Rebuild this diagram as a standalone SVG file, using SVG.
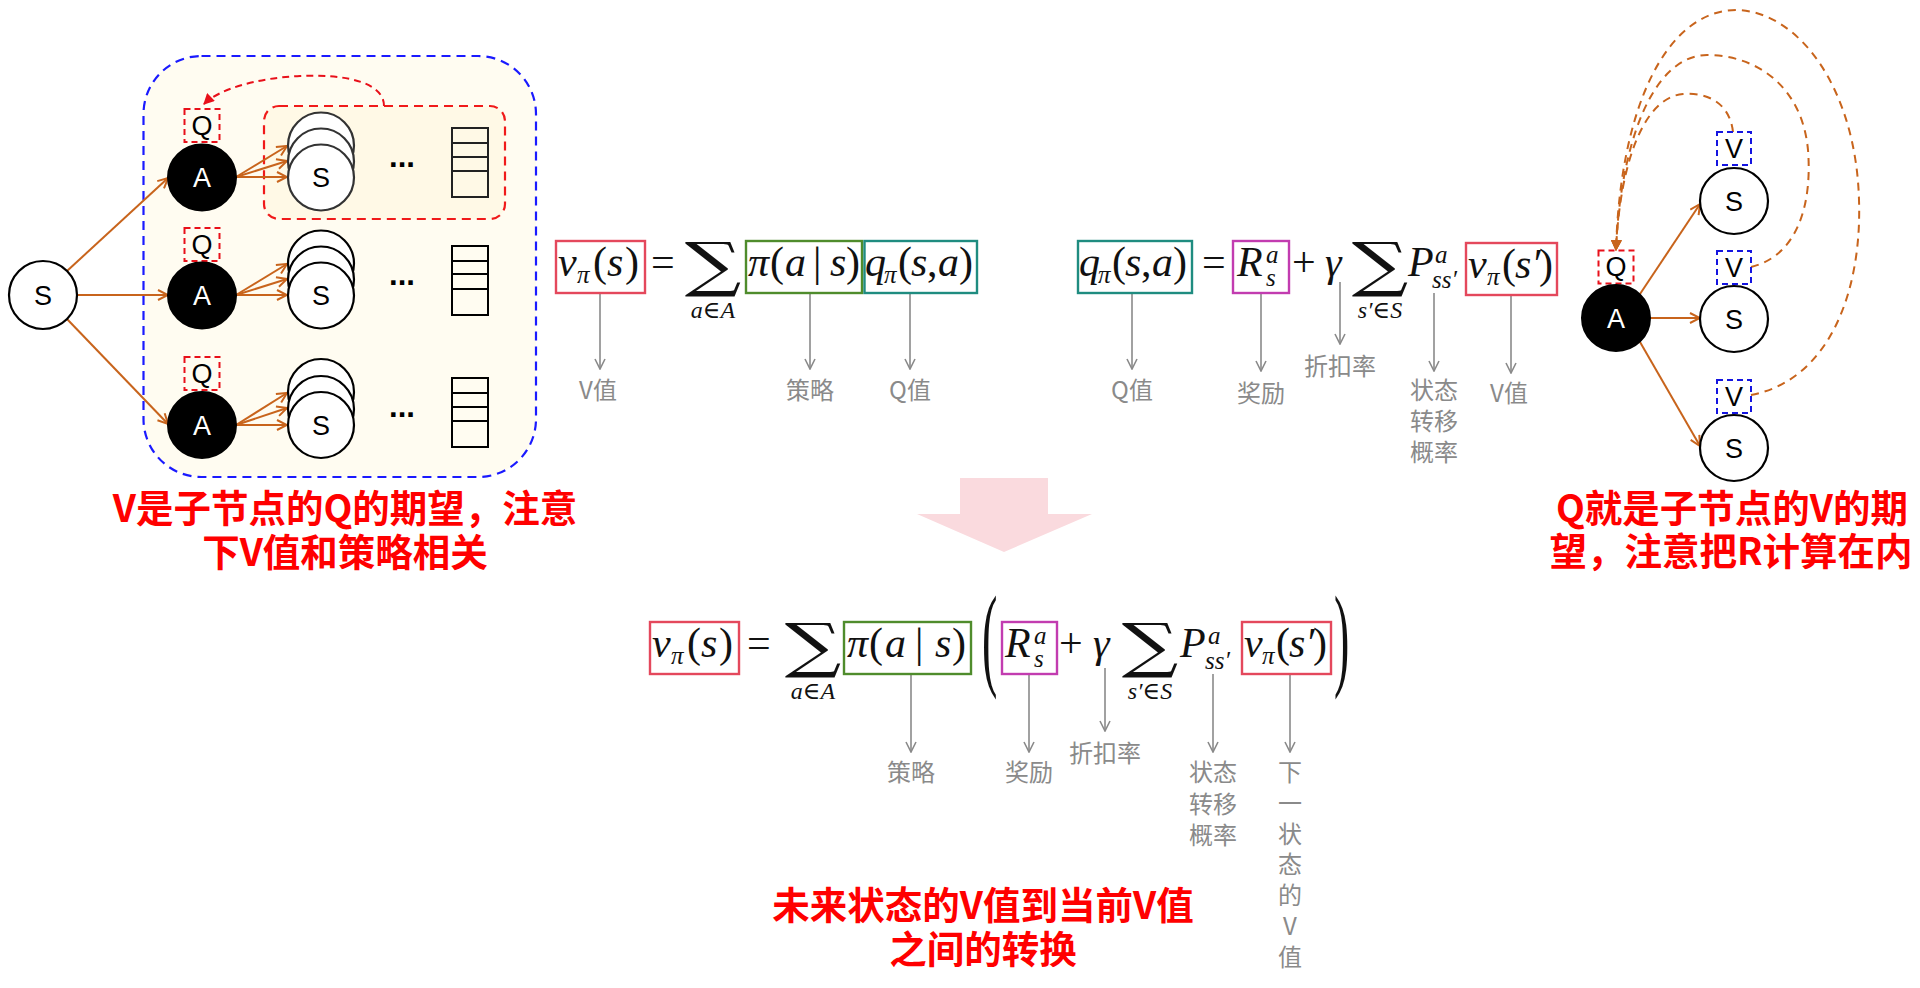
<svg xmlns="http://www.w3.org/2000/svg" width="1920" height="988" viewBox="0 0 1920 988">
<defs>
<style>
.lbl{font-family:"Liberation Sans","Noto Sans",Arial,sans-serif;font-size:27px;text-anchor:middle}
.node{fill:#fff;stroke:#000;stroke-width:2.2}
.anode{fill:#000;stroke:#000;stroke-width:2}
.qbox{fill:none;stroke:#e8101a;stroke-width:2;stroke-dasharray:6,4}
.vbox{fill:none;stroke:#1515e0;stroke-width:2;stroke-dasharray:6,4}
.oar{fill:none;stroke:#c8641c;stroke-width:2}
.odash{fill:none;stroke:#c8641c;stroke-width:2;stroke-dasharray:8,6}
.gar{fill:none;stroke:#8a8a8a;stroke-width:1.6}
.m{font-family:"Liberation Serif","DejaVu Serif",serif;font-style:italic;font-size:42px;fill:#111}
.u{font-style:normal}
.ms{font-size:25px}
.sig{font-family:"DejaVu Serif","Liberation Serif",serif;font-style:normal;font-size:60px;fill:#111;text-anchor:middle}
.sub{font-family:"Liberation Serif","DejaVu Serif",serif;font-style:italic;font-size:24px;fill:#111;text-anchor:middle}
.gl{font-family:"Noto Sans CJK SC","Liberation Sans",sans-serif;font-size:24px;fill:#8a8a8a;text-anchor:middle}
.red{font-family:"Noto Sans CJK SC","Liberation Sans",sans-serif;font-size:37.5px;font-weight:bold;fill:#ff0000;text-anchor:middle}
.bR{fill:none;stroke:#e4485c;stroke-width:2.4}
.bG{fill:none;stroke:#4f8c2c;stroke-width:2.4}
.bT{fill:none;stroke:#1f8c80;stroke-width:2.4}
.bM{fill:none;stroke:#c23cb0;stroke-width:2.4}
.dots{font-family:"Liberation Sans",Arial,sans-serif;font-size:31px;font-weight:bold;text-anchor:middle}
</style>
<marker id="ao" viewBox="0 0 12 12" refX="11" refY="6" markerWidth="12" markerHeight="12" markerUnits="userSpaceOnUse" orient="auto">
<path d="M1,1 L11,6 L1,11" fill="none" stroke="#c8641c" stroke-width="2"/>
</marker>
<marker id="ag" viewBox="0 0 12 12" refX="11" refY="6" markerWidth="12" markerHeight="12" markerUnits="userSpaceOnUse" orient="auto">
<path d="M1,1 L11,6 L1,11" fill="none" stroke="#8a8a8a" stroke-width="1.6"/>
</marker>
<marker id="ar" viewBox="0 0 10 10" refX="9" refY="5" markerWidth="11" markerHeight="11" markerUnits="userSpaceOnUse" orient="auto">
<path d="M0,0 L10,5 L0,10 z" fill="#e8101a"/>
</marker>
<marker id="aof" viewBox="0 0 10 10" refX="9" refY="5" markerWidth="11" markerHeight="11" markerUnits="userSpaceOnUse" orient="auto">
<path d="M0,0 L10,5 L0,10 z" fill="#c8641c"/>
</marker>
</defs>
<rect width="1920" height="988" fill="#fff"/>

<g id="group-blue">
<rect x="143.5" y="56" width="392.5" height="421" rx="58" fill="#fffcf1" stroke="#1a1aff" stroke-width="2.2" stroke-dasharray="9,6"/>
</g>
<g id="group-red">
<rect x="264" y="106" width="241" height="113" rx="15" fill="#fff9e6" stroke="#f01a1a" stroke-width="2.2" stroke-dasharray="9,6"/>
</g>

<g id="connectors">
<line class="oar" x1="67" y1="271" x2="168" y2="178" marker-end="url(#ao)"/>
<line class="oar" x1="77" y1="295" x2="168" y2="295" marker-end="url(#ao)"/>
<line class="oar" x1="67" y1="319" x2="168" y2="424" marker-end="url(#ao)"/>
<line class="oar" x1="236" y1="177" x2="287" y2="146" marker-end="url(#ao)"/>
<line class="oar" x1="236" y1="177" x2="287" y2="161" marker-end="url(#ao)"/>
<line class="oar" x1="236" y1="177" x2="287" y2="177" marker-end="url(#ao)"/>
<line class="oar" x1="236" y1="295" x2="287" y2="264" marker-end="url(#ao)"/>
<line class="oar" x1="236" y1="295" x2="287" y2="279" marker-end="url(#ao)"/>
<line class="oar" x1="236" y1="295" x2="287" y2="295" marker-end="url(#ao)"/>
<line class="oar" x1="236" y1="425" x2="287" y2="393" marker-end="url(#ao)"/>
<line class="oar" x1="236" y1="425" x2="287" y2="408" marker-end="url(#ao)"/>
<line class="oar" x1="236" y1="425" x2="287" y2="425" marker-end="url(#ao)"/>
<path d="M384,106 C384,82 345,74 300,76 C255,78 218,90 204,104" fill="none" stroke="#e8101a" stroke-width="2" stroke-dasharray="7,5" marker-end="url(#ar)"/>
<line class="oar" x1="1640" y1="294" x2="1700" y2="204" marker-end="url(#ao)"/>
<line class="oar" x1="1650" y1="318" x2="1700" y2="318" marker-end="url(#ao)"/>
<line class="oar" x1="1640" y1="342" x2="1700" y2="446" marker-end="url(#ao)"/>
<path class="odash" d="M1733,132 C1730,105 1710,92 1683,94 C1645,97 1620,160 1616,250" marker-end="url(#aof)"/>
<path class="odash" d="M1751,267 C1800,255 1812,200 1808,150 C1802,85 1755,55 1707,55 C1650,56 1620,150 1616,250" marker-end="url(#aof)"/>
<path class="odash" d="M1751,395 C1830,380 1862,290 1859,200 C1856,90 1800,12 1737,10 C1665,10 1620,110 1616,250" marker-end="url(#aof)"/>
<line class="gar" x1="600" y1="293" x2="600" y2="369" marker-end="url(#ag)"/>
<line class="gar" x1="810" y1="293" x2="810" y2="369" marker-end="url(#ag)"/>
<line class="gar" x1="910" y1="293" x2="910" y2="369" marker-end="url(#ag)"/>
<line class="gar" x1="1132" y1="293" x2="1132" y2="369" marker-end="url(#ag)"/>
<line class="gar" x1="1261" y1="293" x2="1261" y2="371" marker-end="url(#ag)"/>
<line class="gar" x1="1340" y1="282" x2="1340" y2="344" marker-end="url(#ag)"/>
<line class="gar" x1="1434" y1="293" x2="1434" y2="371" marker-end="url(#ag)"/>
<line class="gar" x1="1511" y1="295" x2="1511" y2="373" marker-end="url(#ag)"/>
<line class="gar" x1="911" y1="674" x2="911" y2="752" marker-end="url(#ag)"/>
<line class="gar" x1="1029" y1="674" x2="1029" y2="752" marker-end="url(#ag)"/>
<line class="gar" x1="1105" y1="668" x2="1105" y2="731" marker-end="url(#ag)"/>
<line class="gar" x1="1213" y1="674" x2="1213" y2="752" marker-end="url(#ag)"/>
<line class="gar" x1="1290" y1="674" x2="1290" y2="752" marker-end="url(#ag)"/>
</g>

<g id="s-root"><circle class="node" cx="43" cy="295" r="34"/><text class="lbl" x="43" y="305">S</text></g>
<g id="q1"><rect class="qbox" x="184.5" y="109" width="35" height="33"/><text class="lbl" x="202" y="135">Q</text></g>
<g id="a1"><ellipse class="anode" cx="202" cy="177.5" rx="34" ry="33"/><text class="lbl" x="202" y="187" fill="#fff">A</text></g>
<g id="q2"><rect class="qbox" x="184.5" y="228" width="35" height="33"/><text class="lbl" x="202" y="254">Q</text></g>
<g id="a2"><ellipse class="anode" cx="202" cy="295.5" rx="34" ry="33"/><text class="lbl" x="202" y="305" fill="#fff">A</text></g>
<g id="q3"><rect class="qbox" x="184.5" y="357" width="35" height="33"/><text class="lbl" x="202" y="383">Q</text></g>
<g id="a3"><ellipse class="anode" cx="202" cy="425" rx="34" ry="33"/><text class="lbl" x="202" y="435" fill="#fff">A</text></g>

<g id="stack1">
<ellipse cx="321" cy="145.5" rx="33" ry="33" fill="#fff" stroke="#333" stroke-width="2.2"/>
<ellipse cx="321" cy="161.5" rx="33" ry="33" fill="#fff" stroke="#333" stroke-width="2.2"/>
<ellipse cx="321" cy="177.5" rx="33" ry="33" fill="#fff" stroke="#333" stroke-width="2.2"/>
<text class="lbl" x="321" y="187">S</text>
</g>
<g id="stack2">
<ellipse class="node" cx="321" cy="263.5" rx="33" ry="33"/>
<ellipse class="node" cx="321" cy="279.5" rx="33" ry="33"/>
<ellipse class="node" cx="321" cy="295.5" rx="33" ry="33"/>
<text class="lbl" x="321" y="305">S</text>
</g>
<g id="stack3">
<ellipse class="node" cx="321" cy="392" rx="33" ry="33"/>
<ellipse class="node" cx="321" cy="409" rx="33" ry="33"/>
<ellipse class="node" cx="321" cy="425" rx="33" ry="33"/>
<text class="lbl" x="321" y="435">S</text>
</g>

<g id="dots">
<text class="dots" x="402" y="167">...</text>
<text class="dots" x="402" y="285">...</text>
<text class="dots" x="402" y="417">...</text>
</g>

<g id="table1" fill="none" stroke="#222" stroke-width="2">
<rect x="452" y="128" width="36" height="69"/>
<line x1="452" y1="143" x2="488" y2="143"/><line x1="452" y1="157" x2="488" y2="157"/><line x1="452" y1="171" x2="488" y2="171"/>
</g>
<g id="table2" fill="none" stroke="#000" stroke-width="2">
<rect x="452" y="246" width="36" height="69"/>
<line x1="452" y1="261" x2="488" y2="261"/><line x1="452" y1="274" x2="488" y2="274"/><line x1="452" y1="289" x2="488" y2="289"/>
</g>
<g id="table3" fill="none" stroke="#000" stroke-width="2">
<rect x="452" y="378" width="36" height="69"/>
<line x1="452" y1="393" x2="488" y2="393"/><line x1="452" y1="407" x2="488" y2="407"/><line x1="452" y1="421" x2="488" y2="421"/>
</g>

<g id="left-caption">
<text class="red" x="345" y="522">V是子节点的Q的期望，注意</text>
<text class="red" x="345" y="566">下V值和策略相关</text>
</g>

<g id="formula1">
<rect class="bR" x="556" y="241" width="89" height="52"/>
<rect class="bG" x="746" y="241" width="116" height="52"/>
<rect class="bT" x="864.5" y="241" width="112.5" height="52"/>
<text class="m"><tspan x="558" y="276">v</tspan><tspan class="ms" x="577" y="283">π</tspan><tspan class="u" x="593" y="276">(</tspan><tspan x="607" y="276">s</tspan><tspan class="u" x="625" y="276">)</tspan></text>
<text class="m"><tspan class="u" x="651" y="276">=</tspan></text>
<text class="sig" transform="translate(713,285) scale(1.32,1)">∑</text>
<text class="sub" x="713" y="318">a<tspan font-style="normal">∈</tspan>A</text>
<text class="m"><tspan x="748" y="276">π</tspan><tspan class="u" x="770" y="276">(</tspan><tspan x="785" y="276">a</tspan><tspan class="u" x="813" y="276">|</tspan><tspan x="830" y="276">s</tspan><tspan class="u" x="846" y="276">)</tspan></text>
<text class="m"><tspan x="865" y="276">q</tspan><tspan class="ms" x="884" y="283">π</tspan><tspan class="u" x="898" y="276">(</tspan><tspan x="911" y="276">s</tspan><tspan class="u" x="927" y="276">,</tspan><tspan x="938" y="276">a</tspan><tspan class="u" x="959" y="276">)</tspan></text>
<text class="gl" x="598" y="399">V值</text>
<text class="gl" x="810" y="399">策略</text>
<text class="gl" x="910" y="399">Q值</text>
</g>

<g id="formula2">
<rect class="bT" x="1078" y="241" width="114" height="52"/>
<rect class="bM" x="1233" y="241" width="56" height="52"/>
<rect class="bR" x="1466" y="243" width="91" height="52"/>
<text class="m"><tspan x="1079" y="276">q</tspan><tspan class="ms" x="1098" y="283">π</tspan><tspan class="u" x="1112" y="276">(</tspan><tspan x="1125" y="276">s</tspan><tspan class="u" x="1141" y="276">,</tspan><tspan x="1152" y="276">a</tspan><tspan class="u" x="1173" y="276">)</tspan></text>
<text class="m"><tspan class="u" x="1202" y="276">=</tspan></text>
<text class="m"><tspan x="1237" y="276">R</tspan><tspan class="ms" x="1266" y="263">a</tspan><tspan class="ms" x="1266" y="286">s</tspan></text>
<text class="m"><tspan class="u" x="1292" y="276">+</tspan><tspan x="1325" y="276">γ</tspan></text>
<text class="sig" transform="translate(1380,285) scale(1.32,1)">∑</text>
<text class="sub" x="1380" y="318">s′<tspan font-style="normal">∈</tspan>S</text>
<text class="m"><tspan x="1408" y="276">P</tspan><tspan class="ms" x="1435" y="263">a</tspan><tspan class="ms" x="1432" y="288">ss′</tspan></text>
<text class="m"><tspan x="1468" y="278">v</tspan><tspan class="ms" x="1487" y="285">π</tspan><tspan class="u" x="1502" y="278">(</tspan><tspan x="1515" y="278">s′</tspan><tspan class="u" x="1539" y="278">)</tspan></text>
<text class="gl" x="1132" y="399">Q值</text>
<text class="gl" x="1261" y="402">奖励</text>
<text class="gl" x="1340" y="375">折扣率</text>
<text class="gl" x="1434" y="399">状态</text>
<text class="gl" x="1434" y="430">转移</text>
<text class="gl" x="1434" y="461">概率</text>
<text class="gl" x="1509" y="402">V值</text>
</g>

<g id="q-right"><rect class="qbox" x="1598.5" y="250.5" width="35" height="33"/><text class="lbl" x="1616" y="276">Q</text></g>
<g id="a-right"><ellipse class="anode" cx="1616" cy="318" rx="34" ry="33"/><text class="lbl" x="1616" y="328" fill="#fff">A</text></g>
<g id="v1"><rect class="vbox" x="1717" y="132" width="34" height="33"/><text class="lbl" x="1734" y="158">V</text></g>
<g id="s1"><ellipse class="node" cx="1734" cy="201" rx="34" ry="33"/><text class="lbl" x="1734" y="211">S</text></g>
<g id="v2"><rect class="vbox" x="1717" y="251" width="34" height="33"/><text class="lbl" x="1734" y="277">V</text></g>
<g id="s2"><ellipse class="node" cx="1734" cy="319" rx="34" ry="33"/><text class="lbl" x="1734" y="329">S</text></g>
<g id="v3"><rect class="vbox" x="1717" y="380" width="34" height="33"/><text class="lbl" x="1734" y="406">V</text></g>
<g id="s3"><ellipse class="node" cx="1734" cy="448" rx="34" ry="33"/><text class="lbl" x="1734" y="458">S</text></g>
<g id="right-caption">
<text class="red" x="1732" y="522">Q就是子节点的V的期</text>
<text class="red" x="1731" y="565">望，注意把R计算在内</text>
</g>

<g id="down-arrow">
<polygon points="960,478 1048,478 1048,514 1092,514 1004,552 917,514 960,514" fill="#fadade"/>
</g>

<g id="formula3">
<rect class="bR" x="650" y="622" width="89" height="52"/>
<rect class="bG" x="844" y="622" width="127" height="52"/>
<rect class="bM" x="1002" y="622" width="55" height="52"/>
<rect class="bR" x="1242" y="622" width="89" height="52"/>
<text class="m"><tspan x="652" y="657">v</tspan><tspan class="ms" x="671" y="664">π</tspan><tspan class="u" x="687" y="657">(</tspan><tspan x="701" y="657">s</tspan><tspan class="u" x="719" y="657">)</tspan></text>
<text class="m"><tspan class="u" x="747" y="657">=</tspan></text>
<text class="sig" transform="translate(813,666) scale(1.32,1)">∑</text>
<text class="sub" x="813" y="699">a<tspan font-style="normal">∈</tspan>A</text>
<text class="m"><tspan x="847" y="657">π</tspan><tspan class="u" x="869" y="657">(</tspan><tspan x="885" y="657">a</tspan><tspan class="u" x="915" y="657">|</tspan><tspan x="935" y="657">s</tspan><tspan class="u" x="952" y="657">)</tspan></text>
<text class="m" transform="translate(982,675) scale(1,2.5)" style="font-size:46px;font-style:normal">(</text>
<text class="m"><tspan x="1005" y="657">R</tspan><tspan class="ms" x="1034" y="644">a</tspan><tspan class="ms" x="1034" y="667">s</tspan></text>
<text class="m"><tspan class="u" x="1059" y="657">+</tspan><tspan x="1093" y="657">γ</tspan></text>
<text class="sig" transform="translate(1150,666) scale(1.32,1)">∑</text>
<text class="sub" x="1150" y="699">s′<tspan font-style="normal">∈</tspan>S</text>
<text class="m"><tspan x="1180" y="657">P</tspan><tspan class="ms" x="1208" y="644">a</tspan><tspan class="ms" x="1205" y="669">ss′</tspan></text>
<text class="m"><tspan x="1244" y="657">v</tspan><tspan class="ms" x="1262" y="664">π</tspan><tspan class="u" x="1276" y="657">(</tspan><tspan x="1289" y="657">s′</tspan><tspan class="u" x="1313" y="657">)</tspan></text>
<text class="m" transform="translate(1334,675) scale(1,2.5)" style="font-size:46px;font-style:normal">)</text>
<text class="gl" x="911" y="781">策略</text>
<text class="gl" x="1029" y="781">奖励</text>
<text class="gl" x="1105" y="762">折扣率</text>
<text class="gl" x="1213" y="781">状态</text>
<text class="gl" x="1213" y="813">转移</text>
<text class="gl" x="1213" y="844">概率</text>
<text class="gl" x="1290" y="781">下</text>
<text class="gl" x="1290" y="812">一</text>
<text class="gl" x="1290" y="843">状</text>
<text class="gl" x="1290" y="873">态</text>
<text class="gl" x="1290" y="904">的</text>
<text class="gl" x="1290" y="935">V</text>
<text class="gl" x="1290" y="966">值</text>
</g>

<g id="bottom-caption">
<text class="red" x="983" y="919">未来状态的V值到当前V值</text>
<text class="red" x="983" y="963">之间的转换</text>
</g>
</svg>
